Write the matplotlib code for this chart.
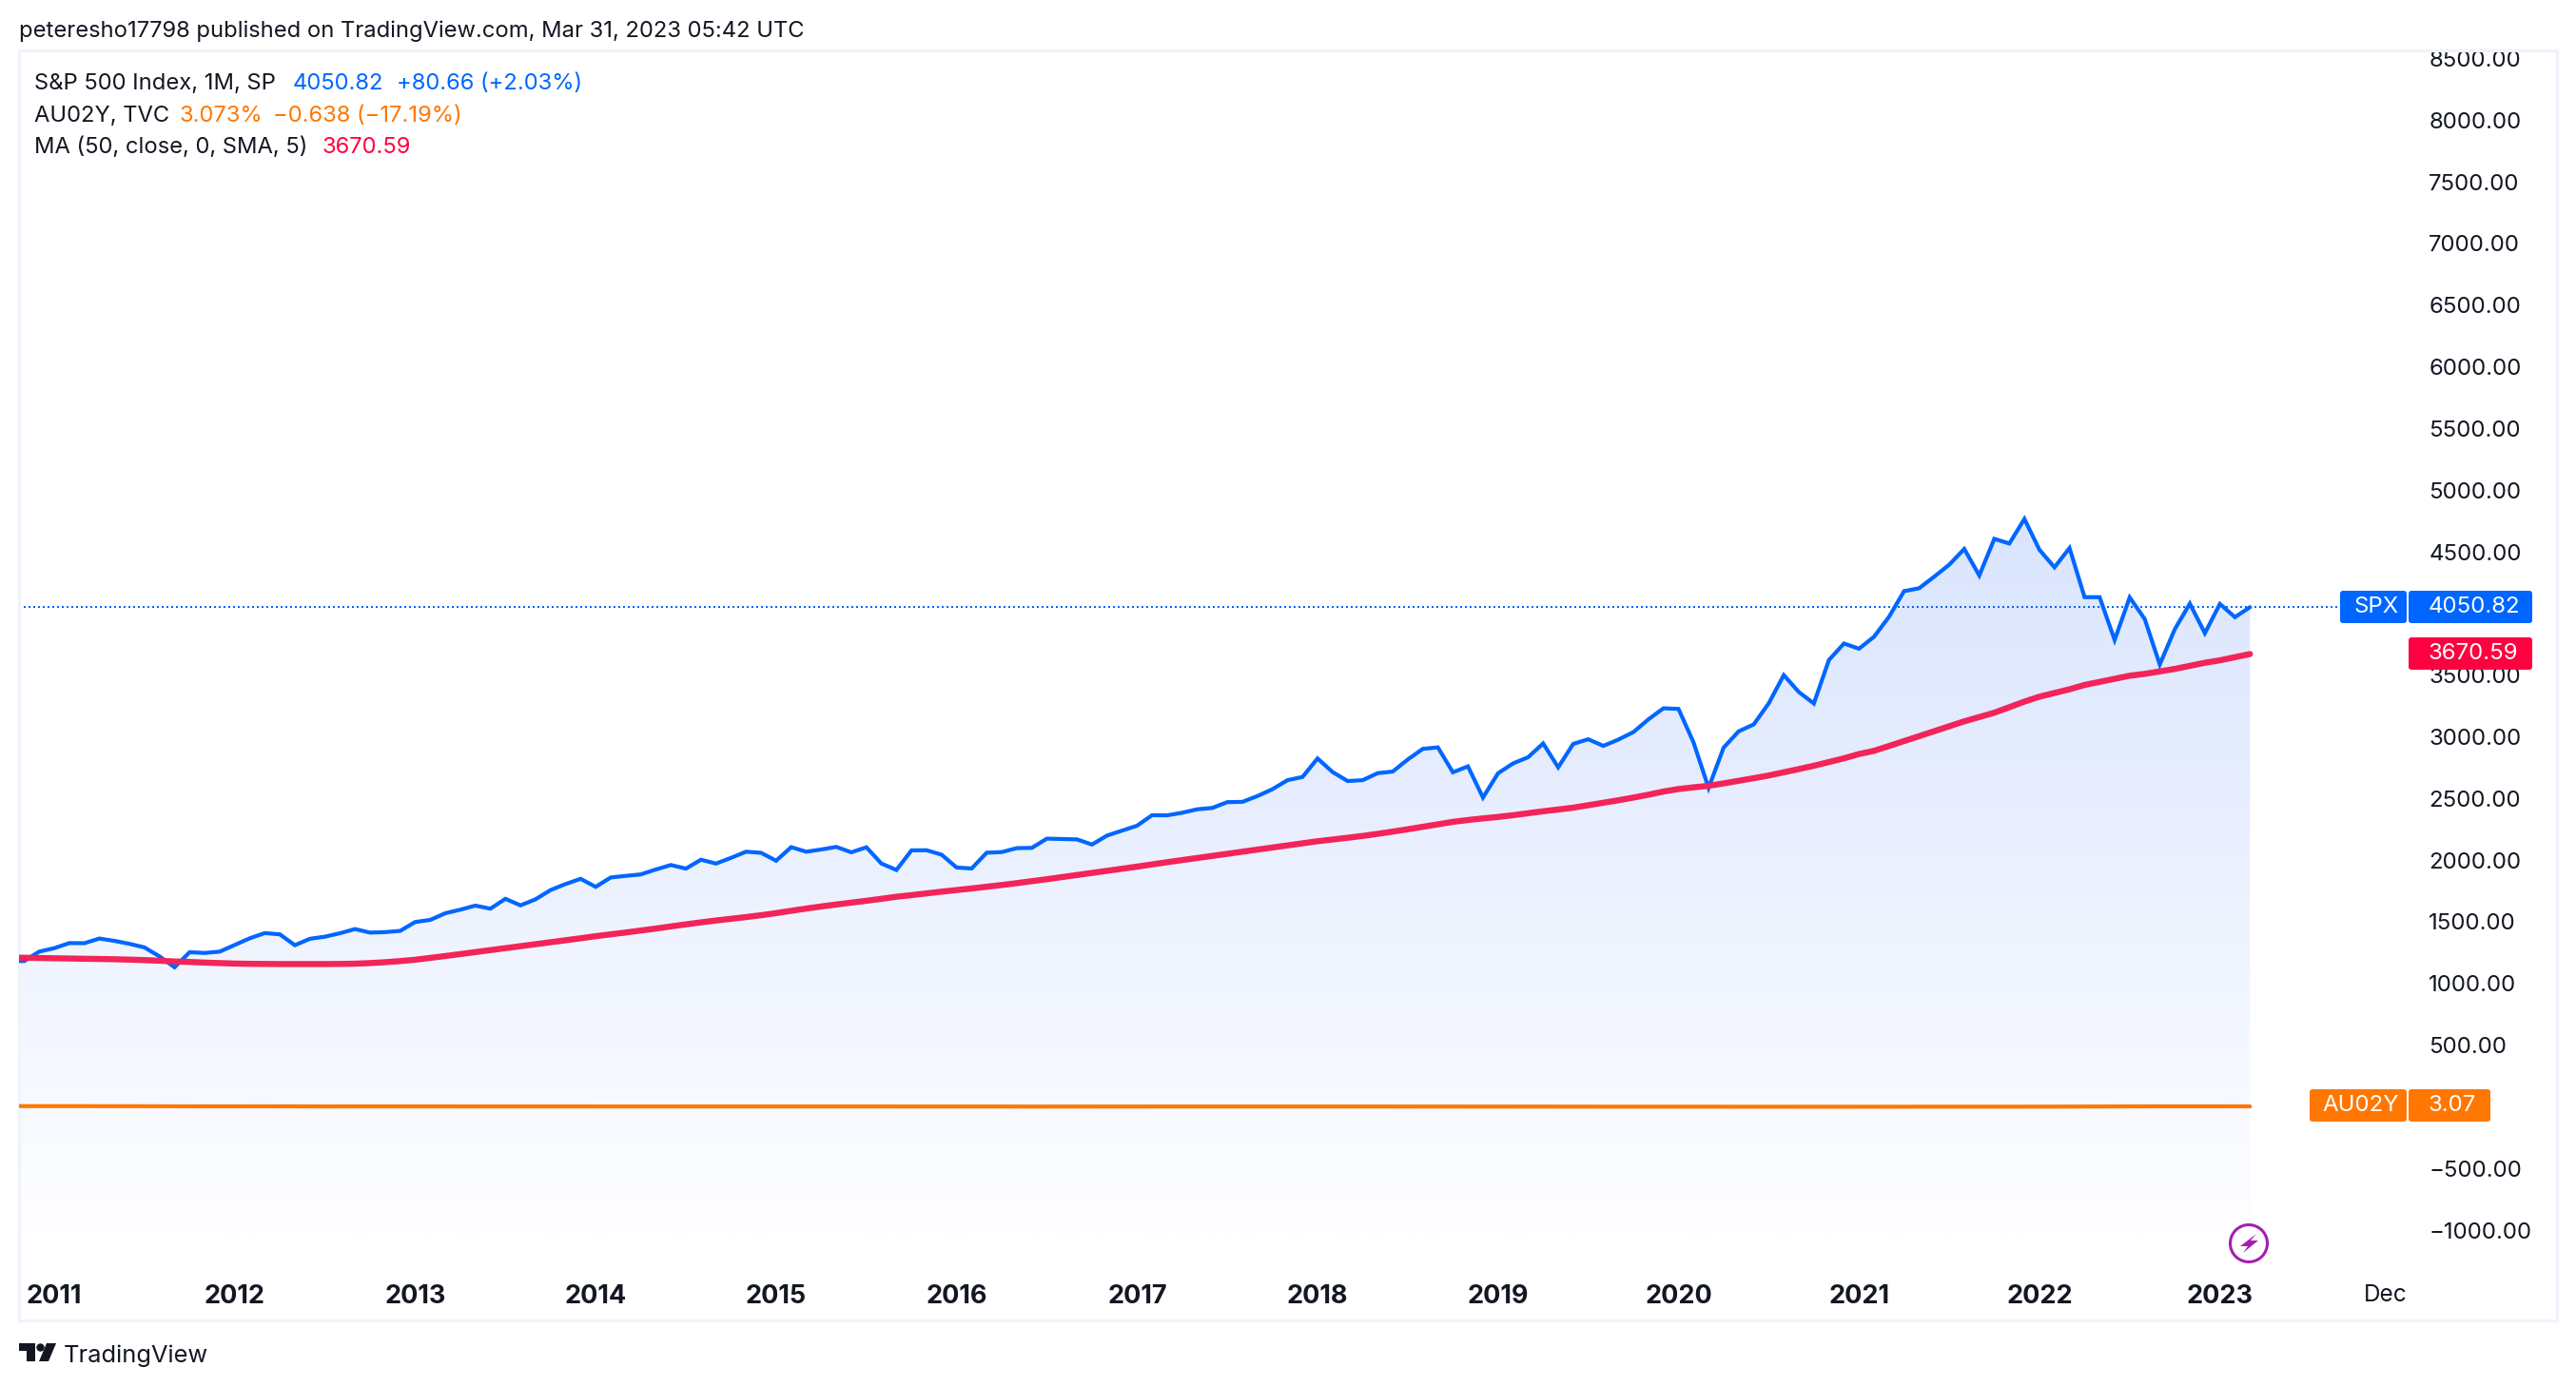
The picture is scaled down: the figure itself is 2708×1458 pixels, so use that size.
import numpy as np
import matplotlib
matplotlib.use('Agg')
import matplotlib.pyplot as plt
from matplotlib.colors import LinearSegmentedColormap
from matplotlib.patches import FancyBboxPatch, Circle, Polygon

plt.rcParams['font.family'] = ['Inter', 'DejaVu Sans']

# monthly closes, Oct 2010 to Mar 2023
spx = [1183, 1181, 1258,
       1286, 1327, 1326, 1364, 1345, 1321, 1292, 1219, 1131, 1253, 1247, 1258,
       1312, 1366, 1408, 1398, 1310, 1362, 1379, 1407, 1441, 1412, 1416, 1426,
       1498, 1515, 1569, 1598, 1631, 1606, 1686, 1633, 1682, 1757, 1806, 1848,
       1783, 1859, 1872, 1884, 1924, 1960, 1931, 2003, 1972, 2018, 2068, 2059,
       1995, 2105, 2068, 2086, 2107, 2063, 2104, 1972, 1920, 2079, 2080, 2044,
       1940, 1932, 2060, 2065, 2097, 2099, 2174, 2171, 2168, 2126, 2199, 2239,
       2279, 2364, 2363, 2384, 2412, 2423, 2470, 2472, 2519, 2575, 2648, 2674,
       2824, 2714, 2641, 2648, 2705, 2718, 2816, 2902, 2914, 2712, 2760, 2507,
       2704, 2784, 2834, 2946, 2752, 2942, 2980, 2926, 2977, 3038, 3141, 3231,
       3226, 2954, 2585, 2912, 3044, 3100, 3271, 3500, 3363, 3270, 3622, 3756,
       3714, 3811, 3973, 4181, 4204, 4298, 4395, 4523, 4308, 4605, 4567, 4766,
       4516, 4374, 4530, 4132, 4132, 3785, 4130, 3955, 3586, 3872, 4080, 3840,
       4077, 3970, 4050.82]

ma50 = [1209, 1208, 1206,
        1204, 1202, 1200, 1198, 1196, 1193, 1189, 1184, 1178, 1174, 1169, 1165,
        1161, 1159, 1158, 1157, 1157, 1157, 1157, 1158, 1160, 1165, 1172, 1181,
        1192, 1207, 1222, 1238, 1254, 1270, 1286, 1302, 1318, 1334, 1350, 1366,
        1383, 1398, 1413, 1429, 1445, 1462, 1479, 1495, 1510, 1524, 1538, 1553,
        1570, 1589, 1607, 1624, 1640, 1655, 1670, 1686, 1703, 1716, 1730, 1744,
        1757, 1770, 1784, 1798, 1813, 1829, 1845, 1862, 1879, 1896, 1913, 1930,
        1947, 1965, 1983, 2000, 2017, 2034, 2051, 2068, 2085, 2102, 2119, 2136,
        2153, 2167, 2181, 2196, 2213, 2231, 2250, 2270, 2290, 2310, 2325, 2338,
        2350, 2364, 2380, 2396, 2410, 2425, 2445, 2465, 2485, 2507, 2530, 2556,
        2576, 2590, 2602, 2622, 2643, 2664, 2686, 2712, 2738, 2765, 2795, 2825,
        2860, 2886, 2925, 2965, 3005, 3045, 3085, 3125, 3160, 3195, 3240, 3285,
        3325, 3355, 3385, 3420, 3445, 3470, 3495, 3510, 3530, 3550, 3575, 3600,
        3620, 3645, 3670.59]

au02y = [4.9, 5.1, 5.0,
         5.0, 5.1, 5.0, 5.0, 4.9, 4.9, 4.6, 4.0, 3.5, 3.7, 3.3, 3.1,
         3.4, 3.8, 3.7, 3.2, 2.4, 2.5, 2.5, 2.8, 2.6, 2.6, 2.6, 2.7,
         2.8, 2.8, 3.0, 2.7, 2.8, 2.7, 2.5, 2.5, 2.7, 2.9, 2.9, 2.7,
         2.7, 2.8, 2.9, 2.9, 2.7, 2.7, 2.7, 2.6, 2.7, 2.6, 2.5, 2.2,
         1.9, 1.8, 1.8, 1.9, 1.9, 2.0, 1.9, 2.0, 1.8, 1.8, 2.0, 2.0,
         1.9, 1.9, 2.0, 1.6, 1.7, 1.6, 1.5, 1.5, 1.5, 1.7, 1.8, 1.9,
         1.8, 1.8, 1.8, 1.7, 1.6, 1.8, 1.9, 1.8, 1.9, 1.9, 1.8, 2.0,
         2.0, 2.0, 2.0, 2.0, 2.0, 2.0, 2.1, 2.0, 2.0, 2.1, 2.0, 1.9,
         1.8, 1.7, 1.5, 1.4, 1.1, 1.0, 0.9, 0.7, 0.8, 0.8, 0.7, 0.9,
         0.7, 0.6, 0.3, 0.2, 0.2, 0.3, 0.3, 0.3, 0.2, 0.2, 0.1, 0.1,
         0.1, 0.1, 0.1, 0.1, 0.1, 0.1, 0.1, 0.0, 0.1, 0.7, 0.6, 0.6,
         0.8, 1.2, 1.5, 2.6, 2.8, 3.1, 3.0, 3.3, 3.4, 3.2, 3.2, 3.5,
         3.4, 3.7, 3.07]

price_ticks = [-1000, -500, 0, 500, 1000, 1500, 2000, 2500, 3000, 3500,
               4000, 4500, 5000, 5500, 6000, 6500, 7000, 7500, 8000, 8500]
year_labels = ['2011', '2012', '2013', '2014', '2015', '2016', '2017', '2018',
               '2019', '2020', '2021', '2022', '2023']

BLUE = '#0066FF'
RED = '#FF0040'
ORANGE = '#FF7700'
DARK = '#131722'
FRAME = '#F0F3FA'

W, H = 2708, 1458
fig = plt.figure(figsize=(W / 100, H / 100), dpi=100, facecolor='white')

# chart frame in pixels
left, right, top, bottom = 20, 2688, 53, 1388
ax = fig.add_axes([left / W, 1 - bottom / H, (right - left) / W, (bottom - top) / H])

x = np.arange(len(spx))

# month 0 sits at 9.6 px, one month is 15.81 px
ax.set_xlim((left - 9.6) / 15.81, (right - 9.6) / 15.81)
ax.set_ylim((1163.4 - bottom) / 0.12964, (1163.4 - top) / 0.12964)
xlim, ylim = ax.get_xlim(), ax.get_ylim()

# gradient under the index line
cmap = LinearSegmentedColormap.from_list('area', ['#DAE5FD', '#E5ECFE', '#F2F6FF', '#FEFEFF'])
base = -1030
poly = ax.fill_between(x, spx, base, facecolor='none', edgecolor='none')
grad = ax.imshow(np.linspace(0, 1, 256)[:, None], cmap=cmap, aspect='auto',
                 extent=[x[0], x[-1], base, max(spx)], origin='upper', zorder=1)
grad.set_clip_path(poly.get_paths()[0], transform=ax.transData)
ax.set_xlim(xlim)
ax.set_ylim(ylim)

ax.plot([xlim[0], (2460 - 9.6) / 15.81], [spx[-1], spx[-1]], color=BLUE, lw=1.44,
        ls=(0, (1, 1.5)), zorder=2)
ax.plot(x, au02y, color=ORANGE, lw=3, solid_capstyle='round', zorder=3)
ax.plot(x, spx, color=BLUE, lw=3, solid_joinstyle='miter', solid_capstyle='round', zorder=4)
ax.plot(x, ma50, color='#F22459', lw=4.6, solid_capstyle='round', zorder=5)

# axes labels sit inside the frame
ax.yaxis.tick_right()
ax.set_yticks(price_ticks)
ax.set_yticklabels([f'{v:.2f}'.replace('-', '\u2212') for v in price_ticks])
ax.tick_params(axis='y', length=0, pad=-97, labelsize=17.3, labelcolor=DARK)

year_pos = [3 + 12 * i for i in range(len(year_labels))]
ax.set_xticks(year_pos + [158])
ax.set_xticklabels(year_labels + ['Dec'])
ax.tick_params(axis='x', length=0, pad=-27, labelsize=17.5, labelcolor=DARK)
for lab in ax.get_xticklabels()[:-1]:
    lab.set_fontweight('bold')
    lab.set_fontsize(19.5)

for s in ax.spines.values():
    s.set_color(FRAME)
    s.set_linewidth(2.2)

# overlay in pixel coordinates for header, price tags and logo
ov = fig.add_axes([0, 0, 1, 1], zorder=10)
ov.set_xlim(0, W)
ov.set_ylim(H, 0)
ov.axis('off')


def label(px, py, s, color=DARK, size=17.1, **kw):
    ov.text(px, py, s, color=color, fontsize=size, va='center', **kw)


def tag(x0, x1, y0, y1, color):
    ov.add_patch(FancyBboxPatch((x0 + 3, y0 + 3), x1 - x0 - 6, y1 - y0 - 6,
                                boxstyle='round,pad=3,rounding_size=3',
                                fc=color, ec='none'))


label(20, 33, 'peteresho17798 published on TradingView.com, Mar 31, 2023 05:42 UTC')

label(36, 88, 'S&P 500 Index, 1M, SP')
label(308, 88, '4050.82', BLUE)
label(417, 88, '+80.66 (+2.03%)', BLUE)
label(36, 122, 'AU02Y, TVC')
label(188, 122, '3.073%', ORANGE)
label(287, 122, '\u22120.638 (\u221217.19%)', ORANGE)
label(36, 155, 'MA (50, close, 0, SMA, 5)')
label(339, 155, '3670.59', RED)

tag(2460, 2530, 621, 655, BLUE)
tag(2532, 2662, 621, 655, BLUE)
tag(2532, 2662, 670, 704, RED)
tag(2428, 2530, 1145, 1179, ORANGE)
tag(2532, 2618, 1145, 1179, ORANGE)
label(2474, 638, 'SPX', 'white', 17.3)
label(2553, 638, '4050.82', 'white', 17.3)
label(2553, 687, '3670.59', 'white', 17.3)
label(2441, 1162, 'AU02Y', 'white', 17.3)
label(2553, 1162, '3.07', 'white', 17.3)

# lightning badge
ov.add_patch(Circle((2364, 1307), 19.5, fc='white', ec='#A61EB0', lw=2.2))
ov.add_patch(Polygon([(2372, 1297), (2355, 1310), (2363, 1310), (2358, 1317),
                      (2374, 1304), (2366, 1304)], fc='#A61EB0', ec='none'))

# TradingView logo
ov.add_patch(Polygon([(20, 1412), (37, 1412), (37, 1431), (28, 1431), (28, 1420), (20, 1420)],
                     fc=DARK, ec='none'))
ov.add_patch(Circle((42.5, 1416.5), 4.2, fc=DARK, ec='none'))
ov.add_patch(Polygon([(49, 1412), (59, 1412), (51, 1431), (41, 1431)], fc=DARK, ec='none'))
label(67, 1425, 'TradingView', DARK, 18.3)

fig.savefig('out.png', dpi=100)
